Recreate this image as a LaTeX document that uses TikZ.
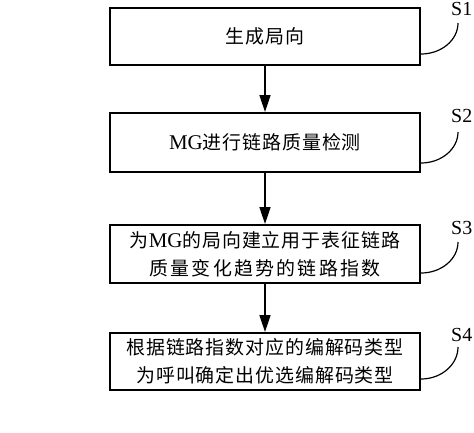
\documentclass[tikz,border=0pt]{standalone}
\usepackage{fontspec}
\setmainfont{Liberation Serif}
\newfontfamily\cjk{Noto Sans CJK SC}[LetterSpace=5]
\newfontfamily\lat{Liberation Serif}
\usetikzlibrary{arrows.meta,calc}
\newcommand\mgtxt{{\lat\fontsize{21}{21}\selectfont MG}}
\begin{document}
\begin{tikzpicture}[x=1bp,y=-1bp,
  stepbox/.style={draw,line width=2bp,minimum width=310bp,inner sep=0pt,align=center,
    font=\cjk\fontsize{19}{28.5}\selectfont},
  arr/.style={line width=1.6bp,-{Triangle[width=11bp,length=17bp]}},
  leader/.style={line width=1.2bp},
  slabel/.style={anchor=west,inner sep=0pt,font=\lat\fontsize{20}{20}\selectfont}]
\useasboundingbox (0,0) rectangle (474,432);
\node[stepbox,minimum height=57bp] (b1) at (265,36.5) {生成局向};
\node[stepbox,minimum height=59bp] (b2) at (265,142.5) {\mgtxt 进行链路质量检测};
\node[stepbox,minimum height=58bp] (b3) at (265,254) {为\mgtxt 的局向建立用于表征链路\\{\addfontfeature{LetterSpace=12}质量变化趋势的链路指数}};
\node[stepbox,minimum height=57bp] (b4) at (265,361.5) {根据链路指数对应的编解码类型\\为呼叫确定出优选编解码类型};
\draw[arr] (b1) -- (b2);
\draw[arr] (b2) -- (b3);
\draw[arr] (b3) -- (b4);
\node[slabel] (s1) at (451,9) {S1};
\node[slabel] (s2) at (451,116) {S2};
\node[slabel] (s3) at (451,228) {S3};
\node[slabel] (s4) at (451,335) {S4};
\coordinate (l1) at (458,23);
\coordinate (l2) at (458,132);
\coordinate (l3) at (458,242);
\coordinate (l4) at (458,347);
\coordinate (e1) at ([yshift=12bp]b1.south east);
\coordinate (e2) at ([yshift=10bp]b2.south east);
\coordinate (e3) at ([yshift=11bp]b3.south east);
\coordinate (e4) at ([yshift=12bp]b4.south east);
\foreach \i in {1,2,3,4}{
  \draw[leader] (l\i) .. controls ($(l\i)!0.55!(l\i |- e\i)$) and ($(e\i)!0.55!(l\i |- e\i)$) .. (e\i);
}
\end{tikzpicture}
\end{document}
